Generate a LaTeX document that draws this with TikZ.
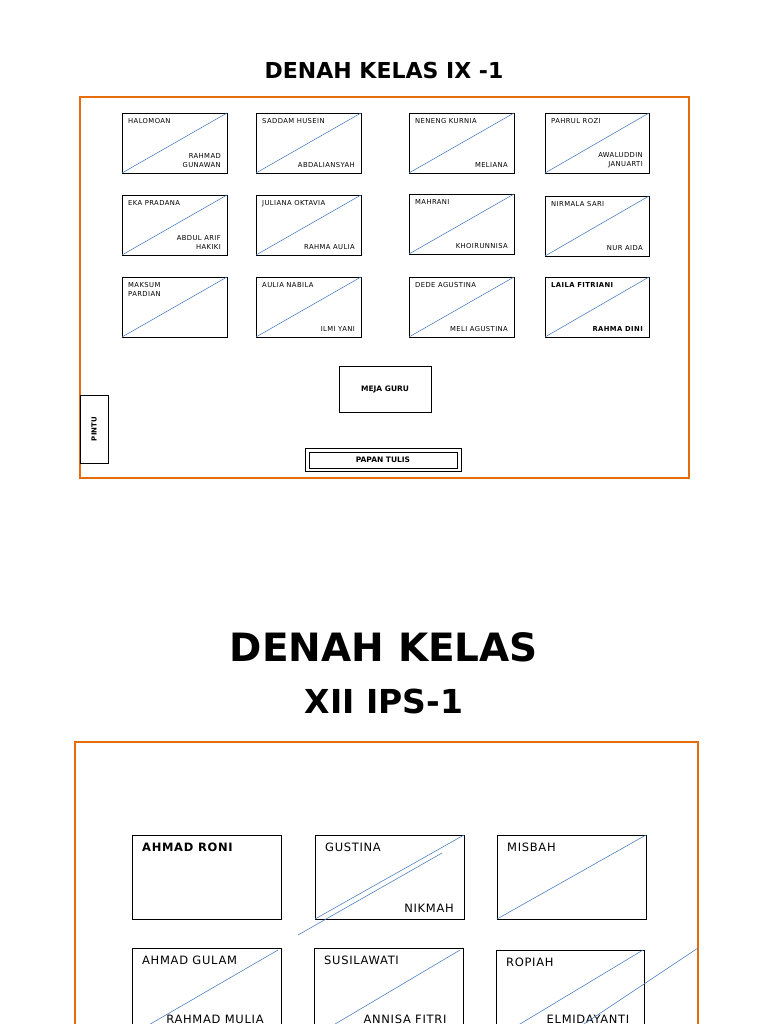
\documentclass[tikz,border=0pt]{standalone}
\usepackage{fontspec}
\setmainfont{DejaVu Sans}
\newfontfamily\spaced[LetterSpace=6]{DejaVu Sans}
\begin{document}
\begin{tikzpicture}[x=1pt,y=-1pt,
  room/.style={draw={rgb,255:red,228;green,108;blue,10},line width=2pt},
  desk/.style={draw=black,line width=0.8pt},
  diag/.style={draw={rgb,255:red,79;green,129;blue,189},line width=0.6pt},
  sm/.style={font=\spaced\fontsize{6.8}{9}\selectfont,inner sep=0pt},
  bg/.style={font=\spaced\fontsize{11.5}{13}\selectfont,inner sep=0pt}]
\useasboundingbox (0,0) rectangle (768,1024);
\node[font=\bfseries\fontsize{22}{26}\selectfont] (t1) at (384,70) {DENAH KELAS IX -1};
\draw[room] (80,97) rectangle (689,478);
\newcommand\dk[6]{% x1 y1 x2 y2 top bottom
  \draw[desk] (#1,#2) rectangle (#3,#4);
  \draw[diag] (#1,#4) -- (#3,#2);
  \node[sm,anchor=north west,align=left] at (#1+6,#2+5) {#5};
  \node[sm,anchor=south east,align=right] at (#3-6,#4-5) {#6};}
\dk{122}{113}{227}{173}{HALOMOAN}{RAHMAD\\GUNAWAN}
\dk{256}{113}{361}{173}{SADDAM HUSEIN}{ABDALIANSYAH}
\dk{409}{113}{514}{173}{NENENG KURNIA}{MELIANA}
\dk{545}{113}{649}{173}{PAHRUL ROZI}{AWALUDDIN\\JANUARTI}
\dk{122}{195}{227}{255}{EKA PRADANA}{ABDUL ARIF\\HAKIKI}
\dk{256}{195}{361}{255}{JULIANA OKTAVIA}{RAHMA AULIA}
\dk{409}{194}{514}{254}{MAHRANI}{KHOIRUNNISA}
\dk{545}{196}{649}{256}{NIRMALA SARI}{NUR AIDA}
\dk{122}{277}{227}{337}{MAKSUM\\PARDIAN}{}
\dk{256}{277}{361}{337}{AULIA NABILA}{ILMI YANI}
\dk{409}{277}{514}{337}{DEDE AGUSTINA}{MELI AGUSTINA}
\dk{545}{277}{649}{337}{\bfseries LAILA FITRIANI}{\bfseries RAHMA DINI}
\node[desk,minimum width=92,minimum height=46,font=\bfseries\fontsize{7.5}{8}\selectfont] (guru) at (385,389) {MEJA GURU};
\node[desk,minimum width=68,minimum height=28,rotate=90,font=\bfseries\fontsize{7}{8}\selectfont] (pintu) at (94,429) {PINTU};
\draw[desk] (305,448) rectangle (461,471);
\node[desk,minimum width=148,minimum height=16,font=\bfseries\fontsize{7.5}{8}\selectfont] (papan) at (383,460) {PAPAN TULIS};
\node[font=\bfseries\fontsize{39}{44}\selectfont] (t2) at (384,647) {DENAH KELAS};
\node[font=\bfseries\fontsize{33}{38}\selectfont] (t3) at (384,701) {XII IPS-1};
\draw[room] (75,742) -- (698,742) (75,741) -- (75,1030) (698,741) -- (698,1030);
\renewcommand\dk[6]{%
  \draw[desk] (#1,#2) rectangle (#3,#4);
  \node[bg,anchor=north west,align=left] at (#1+10,#2+8) {#5};
  \node[bg,anchor=south east,align=right] at (#3-10,#4-6) {#6};}
\dk{132}{835}{281}{919}{\bfseries AHMAD RONI}{}
\dk{315}{835}{464}{919}{GUSTINA}{NIKMAH}
\draw[diag] (315,919) -- (464,835);
\draw[diag] (298,935) -- (442,853);
\dk{497}{835}{646}{919}{MISBAH}{}
\draw[diag] (497,919) -- (646,835);
\dk{132}{948}{281}{1040}{AHMAD GULAM}{}
\node[bg,anchor=south] at (215,1024) {RAHMAD MULIA};
\draw[diag] (278,950) -- (140,1030);
\dk{314}{948}{463}{1040}{SUSILAWATI}{}
\node[bg,anchor=south] at (405,1024) {ANNISA FITRI};
\draw[diag] (460,950) -- (325,1030);
\dk{496}{950}{644}{1040}{ROPIAH}{}
\node[bg,anchor=south] at (588,1024) {ELMIDAYANTI};
\draw[diag] (643,950) -- (510,1030);
\draw[diag] (698,948) -- (575,1030);
\end{tikzpicture}
\end{document}
